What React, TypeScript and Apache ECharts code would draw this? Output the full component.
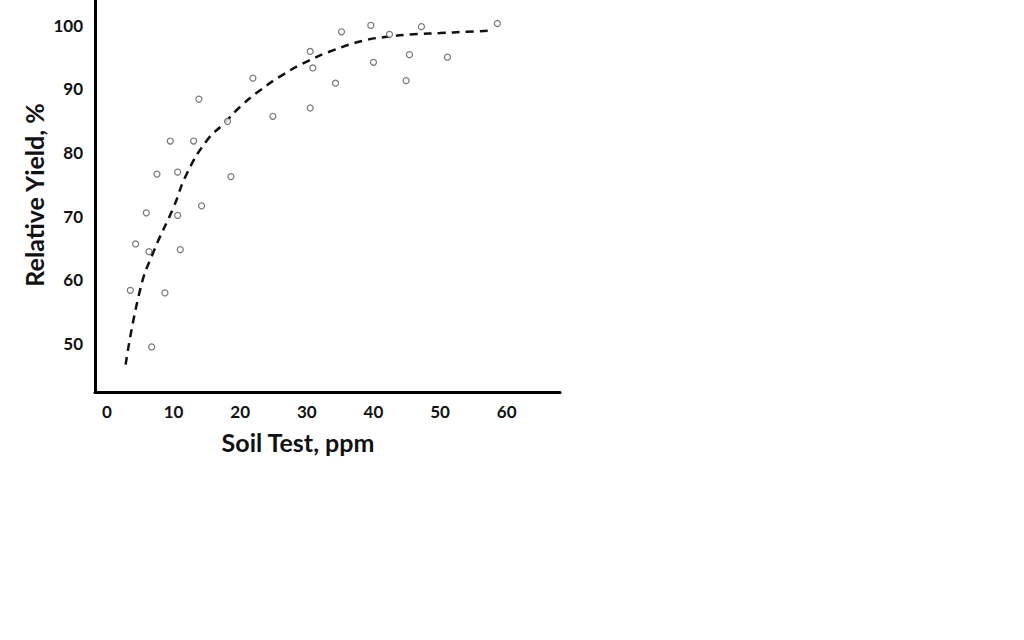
import React, { useEffect, useRef } from "react";
import * as echarts from "echarts";

const xTicks = [0, 10, 20, 30, 40, 50, 60];
const yTicks = [50, 60, 70, 80, 90, 100];

const obsX = [21.9, 13.8, 24.9, 18.1, 9.5, 13.0, 7.5, 10.6, 18.6, 5.9, 10.6, 14.2, 4.3, 6.3, 11.0, 3.5, 8.7, 6.7, 30.5, 30.9, 30.5, 34.3, 35.2, 39.6, 40.0, 42.4, 45.4, 44.9, 47.2, 51.1, 58.6];
const obsY = [91.7, 88.4, 85.7, 84.9, 81.8, 81.8, 76.6, 76.9, 76.2, 70.5, 70.1, 71.6, 65.6, 64.4, 64.7, 58.3, 57.9, 49.4, 95.9, 93.3, 87.0, 90.9, 99.0, 100.0, 94.2, 98.6, 95.4, 91.3, 99.8, 95.0, 100.3];

const fitX = [2.8, 5, 7, 10, 12, 15, 17.5, 20, 23, 26.5, 30, 34, 38.5, 42, 46, 50, 54, 58];
const fitY = [46.6, 58.5, 64.4, 71.4, 76.7, 81.9, 84.5, 87.2, 89.8, 92.3, 94.3, 96.1, 97.6, 98.2, 98.6, 98.8, 99.0, 99.2];

const FONT = "Lato";

export default function App() {
  const ref = useRef<HTMLDivElement>(null);
  useEffect(() => {
    const chart = echarts.init(ref.current!, undefined, { renderer: "svg" });
    chart.setOption({
      animation: false,
      backgroundColor: "#fff",
      grid: { left: 95, top: 0, width: 465, height: 392, containLabel: false },
      xAxis: {
        type: "value",
        min: -1.8,
        max: 68,
        splitLine: { show: false },
        axisTick: { show: false },
        axisLine: { show: true, onZero: false, lineStyle: { color: "#000", width: 3 } },
        axisLabel: {
          customValues: xTicks,
          margin: 11,
          fontFamily: FONT,
          fontWeight: "bold",
          fontSize: 17,
          color: "#111",
        },
      },
      yAxis: {
        type: "value",
        min: 42.3,
        max: 104,
        splitLine: { show: false },
        axisTick: { show: false },
        axisLine: { show: true, onZero: false, lineStyle: { color: "#000", width: 3 } },
        axisLabel: {
          customValues: yTicks,
          margin: 12,
          fontFamily: FONT,
          fontWeight: "bold",
          fontSize: 17,
          color: "#111",
        },
      },
      series: [
        {
          type: "line",
          data: fitX.map((x, i) => [x, fitY[i]]),
          smooth: true,
          symbol: "none",
          lineStyle: { color: "#111", width: 2.5, type: [8, 6] },
          z: 2,
        },
        {
          type: "scatter",
          data: obsX.map((x, i) => [x, obsY[i]]),
          symbol: "circle",
          symbolSize: 6,
          itemStyle: { color: "#fff", borderColor: "#555", borderWidth: 1.2 },
          z: 3,
        },
      ],
      graphic: [
        {
          type: "text",
          x: 34,
          y: 195,
          rotation: Math.PI / 2,
          style: {
            text: "Relative Yield, %",
            fontFamily: FONT,
            fontWeight: "bold",
            fontSize: 25,
            fill: "#111",
            align: "center",
            verticalAlign: "middle",
          },
        },
        {
          type: "text",
          x: 298,
          y: 442,
          style: {
            text: "Soil Test, ppm",
            fontFamily: FONT,
            fontWeight: "bold",
            fontSize: 25,
            fill: "#111",
            align: "center",
            verticalAlign: "middle",
          },
        },
      ],
    });
    return () => chart.dispose();
  }, []);
  return (
    <div
      ref={ref}
      style={{ position: "absolute", left: 0, top: 0, width: 1024, height: 640 }}
    />
  );
}
